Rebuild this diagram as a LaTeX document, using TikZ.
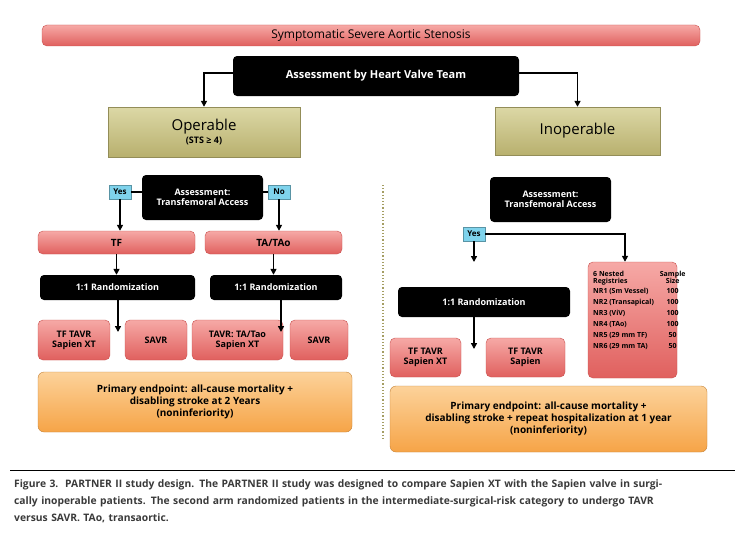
\documentclass[tikz,border=0pt]{standalone}
\usepackage{fontspec}
\setmainfont{Open Sans}
\usetikzlibrary{arrows.meta}
\definecolor{redtop}{HTML}{F6A9A6}
\definecolor{redbot}{HTML}{E0605E}
\definecolor{redline}{HTML}{C9504E}
\definecolor{oratop}{HTML}{FCD29A}
\definecolor{orabot}{HTML}{F6A447}
\definecolor{olitop}{HTML}{DCD8A6}
\definecolor{olibot}{HTML}{B8B06E}
\definecolor{cyanbox}{HTML}{7FD3EC}
\definecolor{captxt}{HTML}{3A3A3A}
\tikzset{
  redbox/.style={draw=redline, rounded corners=5pt, top color=redtop, bottom color=redbot, align=center, font=\bfseries\fontsize{9}{10}\selectfont, inner sep=0pt},
  blackbox/.style={fill=black, rounded corners=4pt, text=white, align=center, font=\bfseries\fontsize{9}{10}\selectfont, inner sep=0pt},
  orabox/.style={draw=orabot!80!black, rounded corners=6pt, top color=oratop, bottom color=orabot, align=center, font=\bfseries\fontsize{10}{12}\selectfont, inner sep=0pt},
  olibox/.style={draw=olibot!80!black, top color=olitop, bottom color=olibot, align=center, inner sep=0pt},
  yesno/.style={fill=cyanbox, draw=cyanbox!70!black, font=\bfseries\fontsize{8}{9}\selectfont, inner sep=0pt, minimum width=22pt, minimum height=14pt},
  arr/.style={-{Triangle[length=6pt,width=6pt]}, line width=1.6pt},
  ln/.style={line width=1.6pt}
}
\newcommand{\boxat}[6]{\node[#1, minimum width=#4-#2, minimum height=#5-#3] (#6) at ({(#2+#4)/2},{(#3+#5)/2})}
\begin{document}
\begin{tikzpicture}[x=1pt,y=-1pt]
  \useasboundingbox[fill=white] (0,0) rectangle (743,535);

  % top
  \boxat{redbox}{42}{25}{700}{46}{title} {\fontsize{12}{14}\selectfont\mdseries Symptomatic Severe Aortic Stenosis};
  \boxat{blackbox}{233}{56}{519}{96}{team} {\fontsize{11}{13}\selectfont Assessment by Heart Valve Team};
  \boxat{olibox}{108}{107}{300}{157}{oper} {{\fontsize{15}{17}\selectfont Operable}\\[1pt]{\fontsize{9}{11}\selectfont\bfseries (STS ≥ 4)}};
  \boxat{olibox}{495}{107}{660}{155}{inop} {\fontsize{15}{17}\selectfont Inoperable};
  \draw[arr] (team.west |- 0,73) -| (oper.north);
  \draw[arr] (team.east |- 0,73) -| (inop.north);

  \draw[dotted, line width=1.2pt, olibot!90!black] (383,185) -- (383,440);

  % left arm
  \boxat{blackbox}{142}{175}{263}{220}{accL} {Assessment:\\Transfemoral Access};
  \node[yesno] (yesL) at (120,192) {Yes};
  \node[yesno] (noL) at (279,192) {No};
  \draw[ln] (yesL) -- (accL.west |- yesL);
  \draw[ln] (noL) -- (accL.east |- noL);
  \boxat{redbox}{38}{231}{195}{254}{tf} {\fontsize{10}{12}\selectfont TF};
  \boxat{redbox}{205}{231}{342}{254}{ta} {\fontsize{10}{12}\selectfont TA/TAo};
  \draw[arr] (yesL) -- (yesL |- tf.north);
  \draw[arr] (noL) -- (noL |- ta.north);
  \boxat{blackbox}{40}{275}{195}{300}{randA} {1:1 Randomization};
  \boxat{blackbox}{210}{275}{342}{300}{randB} {1:1 Randomization};
  \draw[arr] (tf) -- (tf |- randA.north);
  \draw[arr] (ta) -- (ta |- randB.north);
  \boxat{redbox}{38}{320}{110}{360}{tftavrL} {TF TAVR\\Sapien XT};
  \boxat{redbox}{125}{320}{187}{360}{savrA} {SAVR};
  \boxat{redbox}{192}{320}{283}{360}{tatavr} {TAVR: TA/Tao\\Sapien XT};
  \boxat{redbox}{290}{320}{348}{360}{savrB} {SAVR};
  \coordinate (endA) at (118,332);
  \coordinate (endB) at (281,332);
  \draw[arr] (randA.south -| endA) -- (endA);
  \draw[arr] (randB.south -| endB) -- (endB);
  \boxat{orabox}{38}{372}{352}{432}{endL} {Primary endpoint: all-cause mortality +\\disabling stroke at 2 Years\\(noninferiority)};

  % right arm
  \boxat{blackbox}{490}{177}{611}{222}{accR} {Assessment:\\Transfemoral Access};
  \node[yesno] (yesR) at (474,234) {Yes};
  \boxat{redbox}{588}{262}{677}{378}{reg} {};
  \draw[arr] (yesR.east) -| (reg.north -| 625,0);
  \boxat{blackbox}{398}{287}{570}{317}{randR} {1:1 Randomization};
  \coordinate (yesEnd) at (474,262);
  \draw[arr] (yesR) -- (yesEnd);
  \boxat{redbox}{390}{338}{461}{377}{tftavrR} {TF TAVR\\Sapien XT};
  \boxat{redbox}{486}{338}{565}{377}{tfsap} {TF TAVR\\Sapien};
  \coordinate (endR) at (474,349);
  \draw[arr] (randR.south -| endR) -- (endR);
  \node[font=\bfseries\fontsize{7}{7.5}\selectfont, align=left, anchor=north west, inner sep=0pt] (regt) at (593,271) {%
    \begin{tabular}{@{}l@{\hspace{6pt}}c@{}}
    6 Nested & Sample\\[-1pt] Registries & Size\\[3pt]
    NR1 (Sm Vessel) & 100\\[3.5pt]
    NR2 (Transapical) & 100\\[3.5pt]
    NR3 (ViV) & 100\\[3.5pt]
    NR4 (TAo) & 100\\[3.5pt]
    NR5 (29 mm TF) & 50\\[3.5pt]
    NR6 (29 mm TA) & 50
    \end{tabular}};
  \boxat{orabox}{390}{386}{707}{452}{endR2} {Primary endpoint: all-cause mortality +\\disabling stroke + repeat hospitalization at 1 year\\(noninferiority)};

  % caption
  \draw[line width=0.8pt] (10,470) -- (735,470);
  \node[anchor=north west, inner sep=0pt, text width=720pt, align=left, text=captxt,
        font=\bfseries\fontsize{10.3}{17}\selectfont] (cap) at (14,479)
    {Figure 3.\ \ PARTNER II study design. The PARTNER II study was designed to compare Sapien XT with the Sapien valve in surgi-\\cally inoperable patients. The second arm randomized patients in the intermediate-surgical-risk category to undergo TAVR\\versus SAVR. TAo, transaortic.};
\end{tikzpicture}
\end{document}
